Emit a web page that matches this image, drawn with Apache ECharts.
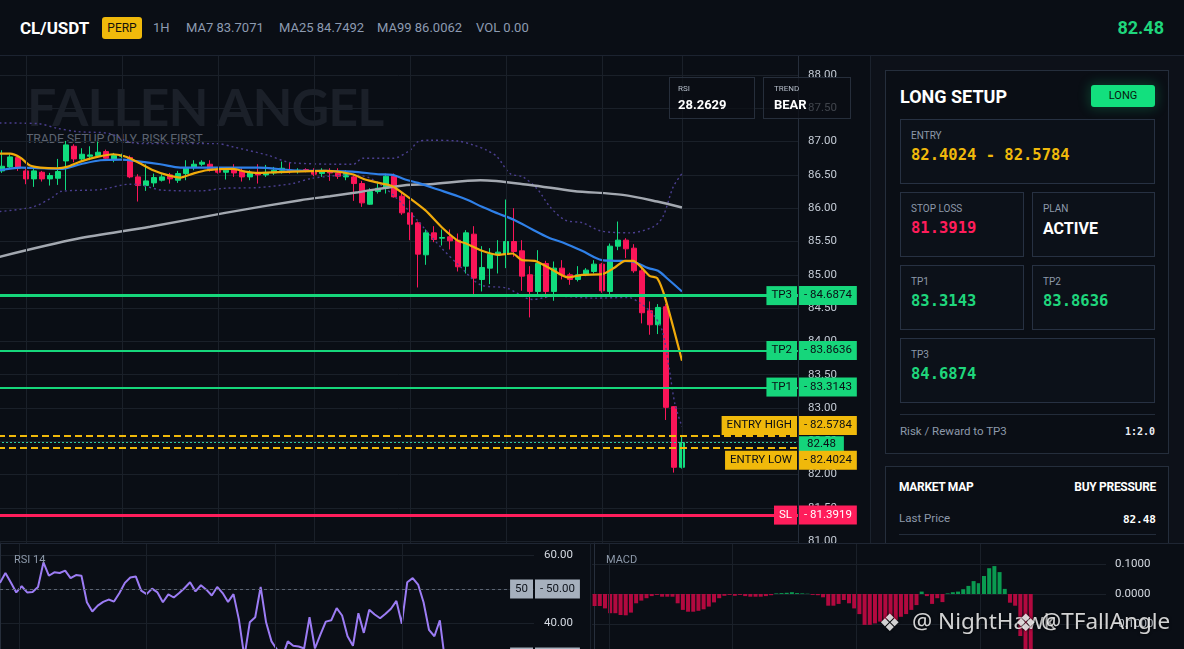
<!DOCTYPE html>
<html><head><meta charset="utf-8">
<script src="https://cdn.jsdelivr.net/npm/echarts/dist/echarts.min.js"></script>
<style>
*{box-sizing:border-box}
html,body{margin:0;padding:0}
body{background:#0a0e15;width:1184px;height:649px;overflow:hidden;position:relative;font-family:Roboto,'Noto Sans',sans-serif}
.t{position:absolute;white-space:nowrap;line-height:1}
.box{position:absolute;border:1px solid #273142;background:#0c1119}
.lbl{position:absolute;white-space:nowrap;line-height:1;font-size:10px;color:#8d99aa;font-family:Roboto}
.val{position:absolute;white-space:nowrap;line-height:1;font-family:'DejaVu Sans Mono',monospace;font-weight:700;font-size:15.5px}
#chart{position:absolute;left:0;top:0;width:1184px;height:649px;z-index:1}
.ov{z-index:2}
.wm{z-index:3;color:rgba(255,255,255,0.82);text-shadow:0 0 3px rgba(0,0,0,0.85);font-family:'Noto Sans';font-size:22.5px}
</style></head><body>
<div class="t" style="left:27px;top:75px;font:700 52px Lato;letter-spacing:-1px;color:#1b2029;z-index:0">FALLEN ANGEL</div>
<div class="t" style="left:26px;top:131px;font:12.5px Roboto;letter-spacing:-0.15px;color:#5c6370;z-index:0">TRADE SETUP ONLY. RISK FIRST.</div>
<div id="chart"></div>

<div class="ov" style="position:absolute;left:0;top:0;width:1184px;height:56px;background:#0a0e15;border-bottom:1px solid #1c2330"></div>
<div class="t ov" style="left:20px;top:19.5px;font-size:17px;font-weight:700;color:#fff">CL/USDT</div>
<div class="ov" style="position:absolute;left:102px;top:17px;width:40px;height:22px;background:#f0b90b;border-radius:3px;text-align:center;line-height:22px;font-size:12px;color:#16120a">PERP</div>
<div class="t ov" style="left:153px;top:21px;font-size:13px;color:#8d9bb1">1H</div>
<div class="t ov" style="left:186px;top:21px;font-size:13px;color:#8d9bb1">MA7 83.7071</div>
<div class="t ov" style="left:279px;top:21px;font-size:13px;color:#8d9bb1">MA25 84.7492</div>
<div class="t ov" style="left:377px;top:21px;font-size:13px;color:#8d9bb1">MA99 86.0062</div>
<div class="t ov" style="left:476px;top:21px;font-size:13px;color:#8d9bb1">VOL 0.00</div>
<div class="t ov" style="right:20px;top:19.3px;font-size:18px;font-weight:700;color:#1fd67c">82.48</div>

<div class="ov" style="position:absolute;left:669px;top:77px;width:86px;height:42px;border:1px solid #262e3b;background:rgba(11,14,21,0.72)"></div>
<div class="t ov" style="left:678px;top:84.6px;font-size:8px;color:#b5bdc9">RSI</div>
<div class="t ov" style="left:678px;top:97.7px;font-size:13px;font-weight:700;color:#fff">28.2629</div>
<div class="ov" style="position:absolute;left:763px;top:77px;width:88px;height:42px;border:1px solid #262e3b;background:rgba(11,14,21,0.72)"></div>
<div class="t ov" style="left:774px;top:84.6px;font-size:8px;color:#b5bdc9">TREND</div>
<div class="t ov" style="left:774px;top:97.7px;font-size:13px;font-weight:700;color:#fff">BEAR</div>

<div class="ov" style="position:absolute;left:870px;top:56px;width:314px;height:487px;background:#0d1119;border-left:1px solid #1b222d"></div>
<div class="ov" style="position:absolute;left:885px;top:70px;width:284px;height:384px;border:1px solid #252e3c;background:#0a0e15"></div>
<div class="t ov" style="left:900px;top:88px;font-size:18px;font-weight:700;color:#fff">LONG SETUP</div>
<div class="ov" style="position:absolute;left:1091px;top:85px;width:64px;height:22px;background:#12e07e;border-radius:3px;text-align:center;line-height:22px;font-size:11px;color:#07170e;box-shadow:0 0 12px 2px rgba(18,224,126,0.22)">LONG</div>

<div class="box ov" style="left:900px;top:119px;width:255px;height:65px"></div>
<div class="lbl ov" style="left:911px;top:130.6px">ENTRY</div>
<div class="val ov" style="left:911px;top:147.6px;color:#f0b90b">82.4024 - 82.5784</div>

<div class="box ov" style="left:900px;top:192px;width:124px;height:65px"></div>
<div class="lbl ov" style="left:911px;top:204.1px">STOP LOSS</div>
<div class="val ov" style="left:911px;top:221.1px;color:#ff1d5b">81.3919</div>
<div class="box ov" style="left:1032px;top:192px;width:123px;height:65px"></div>
<div class="lbl ov" style="left:1043px;top:204.1px">PLAN</div>
<div class="t ov" style="left:1043px;top:220.7px;font-size:16px;font-weight:700;color:#fff">ACTIVE</div>

<div class="box ov" style="left:900px;top:265px;width:124px;height:65px"></div>
<div class="lbl ov" style="left:911px;top:277.4px">TP1</div>
<div class="val ov" style="left:911px;top:294.1px;color:#1fd67c">83.3143</div>
<div class="box ov" style="left:1032px;top:265px;width:123px;height:65px"></div>
<div class="lbl ov" style="left:1043px;top:277.4px">TP2</div>
<div class="val ov" style="left:1043px;top:294.1px;color:#1fd67c">83.8636</div>

<div class="box ov" style="left:900px;top:338px;width:255px;height:65px"></div>
<div class="lbl ov" style="left:911px;top:350.1px">TP3</div>
<div class="val ov" style="left:911px;top:366.6px;color:#1fd67c">84.6874</div>

<div class="ov" style="position:absolute;left:900px;top:414px;width:255px;height:1px;background:#232c3a"></div>
<div class="t ov" style="left:900px;top:426.1px;font-size:11.5px;color:#8d99aa">Risk / Reward to TP3</div>
<div class="val ov" style="right:29px;top:427.2px;font-size:10px;color:#e9edf2">1:2.0</div>

<div class="ov" style="position:absolute;left:885px;top:466px;width:284px;height:77px;border:1px solid #252e3c;border-bottom:none;background:#0a0e15"></div>
<div class="t ov" style="left:899px;top:480.9px;font-size:12px;font-weight:700;letter-spacing:-0.3px;color:#fff">MARKET MAP</div>
<div class="t ov" style="right:28px;top:480.9px;font-size:12px;font-weight:700;letter-spacing:-0.3px;color:#fff">BUY PRESSURE</div>
<div class="t ov" style="left:899px;top:513.4px;font-size:11.5px;color:#8d99aa">Last Price</div>
<div class="val ov" style="right:28px;top:513.7px;font-size:11px;color:#fff">82.48</div>
<div class="ov" style="position:absolute;left:899px;top:534px;width:257px;height:1px;background:#232c3a"></div>

<div class="ov" style="position:absolute;left:0;top:543px;width:1184px;height:1px;background:#1f2633"></div>
<div class="ov" style="position:absolute;left:590px;top:543px;width:1px;height:106px;background:#1a212c"></div>
<div class="t ov" style="left:14px;top:553.7px;font-size:11px;color:#8d99aa">RSI 14</div>
<div class="t ov" style="left:606px;top:554px;font-size:11px;color:#8d99aa">MACD</div>

<div class="t wm" style="left:879px;top:611px;font-family:'DejaVu Sans';font-size:24px">❖</div>
<div class="t wm" style="left:912px;top:610px">@ NightHawk</div>
<div class="t wm" style="left:1015px;top:611px;font-family:'DejaVu Sans';font-size:24px">❖</div>
<div class="t wm" style="left:1041px;top:610px">@TFallAngle</div>

<script>
// ---------- data ----------
const categories = Array.from({length: 100}, (_, i) => String(i));
const opens  = [86.56,86.62,86.76,86.56,86.44,86.54,86.44,86.45,86.71,86.93,86.74,86.78,86.79,86.85,86.74,86.78,86.76,86.47,86.34,86.38,86.42,86.50,86.42,86.52,86.61,86.66,86.66,86.57,86.54,86.58,86.56,86.47,86.53,86.50,86.53,86.57,86.57,86.55,86.58,86.56,86.52,86.56,86.53,86.47,86.47,86.37,86.06,86.25,86.30,86.48,86.18,85.93,85.78,85.30,85.63,85.55,85.57,85.52,85.13,85.61,84.93,85.10,85.30,85.31,85.50,85.36,85.00,84.75,85.17,84.75,85.10,85.00,84.93,85.00,85.05,85.16,84.75,85.43,85.52,85.40,85.06,84.46,84.25,84.52,83.02,82.11];
const closes = [86.63,86.77,86.60,86.44,86.56,86.44,86.49,86.55,86.95,86.74,86.81,86.80,86.84,86.75,86.79,86.79,86.47,86.34,86.41,86.46,86.47,86.44,86.52,86.61,86.66,86.69,86.57,86.54,86.57,86.53,86.47,86.53,86.50,86.53,86.57,86.60,86.55,86.57,86.56,86.51,86.55,86.53,86.48,86.53,86.37,86.08,86.25,86.30,86.48,86.17,85.93,85.76,85.31,85.63,85.53,85.56,85.51,85.12,85.63,84.95,85.11,85.31,85.34,85.50,85.35,84.98,84.75,85.17,84.75,85.10,85.00,84.93,85.00,85.07,85.16,84.76,85.43,85.52,85.39,85.06,84.43,84.25,84.51,83.01,82.11,82.48];
const lows   = [86.53,86.60,86.56,86.36,86.32,86.40,86.34,86.35,86.27,86.69,86.70,86.72,86.77,86.72,86.69,86.75,86.45,86.10,86.26,86.32,86.40,86.37,86.38,86.42,86.57,86.63,86.55,86.52,86.43,86.47,86.40,86.42,86.37,86.47,86.50,86.52,86.52,86.52,86.54,86.48,86.47,86.41,86.44,86.42,86.11,86.02,86.05,86.22,86.22,86.16,85.90,85.52,84.81,85.15,85.49,85.44,85.38,85.05,85.02,84.68,84.75,84.86,85.02,85.10,85.27,84.76,84.36,84.70,84.65,84.61,84.93,84.85,84.90,84.98,85.02,84.73,84.70,85.37,85.25,85.03,84.27,84.10,84.11,82.82,82.03,82.09];
const highs  = [86.87,86.81,86.79,86.60,86.60,86.56,86.53,86.74,87.01,86.96,86.90,86.93,87.00,86.88,86.83,86.82,86.79,86.51,86.66,86.52,86.51,86.53,86.56,86.72,86.72,86.72,86.72,86.60,86.60,86.66,86.60,86.57,86.66,86.65,86.62,86.70,86.69,86.60,86.60,86.60,86.60,86.60,86.60,86.57,86.51,86.41,86.30,86.40,86.52,86.52,86.25,86.12,85.80,85.68,85.73,85.68,85.68,85.62,85.67,85.73,85.43,85.40,85.52,86.13,86.00,85.52,85.13,85.37,85.21,85.20,85.22,85.03,85.13,85.10,85.22,85.18,85.47,85.80,85.55,85.46,85.12,84.60,84.56,84.56,83.03,82.58];

// moving averages & bands: [candle index, price]
const ma7 = [[-0.3,86.82],[1,86.82],[2.3,86.76],[3.5,86.64],[4.8,86.61],[6.9,86.60],[8.1,86.62],[9.8,86.70],[11.9,86.77],[13.9,86.81],[15.6,86.77],[17.3,86.67],[18.9,86.57],[20.6,86.50],[22.3,86.46],[23.9,86.52],[25.6,86.57],[28.9,86.59],[30.4,86.55],[32,86.53],[36.3,86.55],[40.4,86.56],[43.8,86.51],[45.4,86.43],[47.5,86.37],[48.8,86.33],[50.4,86.20],[52.9,85.97],[55,85.71],[57,85.51],[58,85.47],[60,85.36],[62,85.30],[63.8,85.32],[65,85.22],[66.6,85.21],[68.3,85.11],[70.8,84.96],[72.5,85.00],[75,85.01],[76.6,85.11],[77.9,85.21],[78.9,85.21],[80,85.10],[81,84.98],[81.9,84.95],[82.9,84.65],[85,83.71]];
const ma25 = [[-0.3,86.57],[2.3,86.61],[4.8,86.60],[7.3,86.59],[9.8,86.66],[12.3,86.72],[14.8,86.73],[17.3,86.70],[19.8,86.66],[22.3,86.61],[24.8,86.61],[28.9,86.61],[32,86.61],[36.3,86.57],[40.4,86.56],[43.8,86.55],[47,86.51],[48.8,86.50],[50.4,86.43],[52,86.38],[54.5,86.28],[57,86.18],[58.3,86.12],[60,86.02],[62,85.92],[64.1,85.82],[66.3,85.68],[68.3,85.56],[70.4,85.47],[72.5,85.36],[75,85.22],[76.6,85.21],[78.8,85.20],[80.8,85.10],[82,85.06],[83.3,84.93],[85,84.75]];
const ma99 = [[-0.3,85.27],[9.4,85.54],[18.5,85.72],[27.9,85.93],[37.3,86.12],[41,86.18],[44.5,86.24],[50.6,86.35],[53.5,86.36],[59.8,86.42],[66,86.35],[71.4,86.26],[77.6,86.20],[81.9,86.10],[85,86.01]];
const bollUpper = [[-0.3,87.28],[4.5,87.27],[6.9,87.20],[9.4,87.15],[13.5,87.12],[15.5,87.01],[17.3,86.97],[26.9,86.97],[28.9,86.92],[33.1,86.80],[36.3,86.68],[43.9,86.66],[45.1,86.75],[48.9,86.75],[51,86.87],[52,87.00],[53.5,87.02],[56.9,87.01],[58.9,86.95],[60.6,86.87],[61.9,86.77],[63.5,86.52],[65.1,86.47],[66.9,86.29],[68.5,86.02],[70.4,85.82],[72.6,85.78],[74.8,85.66],[78.5,85.63],[81.4,85.72],[82.6,85.87],[83.9,86.32],[85,86.52]];
const bollLower = [[-0.3,85.95],[3.9,86.02],[6.4,86.17],[7.3,86.25],[12.3,86.28],[16,86.36],[17.3,86.35],[20.1,86.27],[24.8,86.26],[27.9,86.30],[32,86.31],[36.3,86.37],[38.8,86.45],[43.8,86.50],[46,86.45],[48.9,86.20],[51.9,85.82],[54.8,85.42],[57.3,85.12],[59.8,84.85],[63.1,84.80],[66.3,84.63],[69.1,84.68],[74.1,84.65],[78.3,84.66],[79.8,84.57],[81.3,84.42],[82.5,84.17],[83.3,83.67],[84.1,83.07],[85,82.72]];

const rsi14 = [51.8,54.7,51.9,49.0,50.8,49.0,49.1,50.6,57.8,53.9,54.9,54.7,55.4,53.2,54.1,53.9,46.1,43.4,45.1,46.2,46.9,46.3,48.8,51.8,53.4,53.7,49.5,48.5,50.1,49.0,46.1,48.4,47.5,48.8,50.3,52.0,49.3,51.1,49.8,48.1,50.6,48.8,46.2,48.5,41.0,30.0,40.2,41.7,50.6,40.2,34.6,32.2,30.0,34.6,33.3,33.1,32.5,41.7,32.5,36.6,40.4,40.8,44.4,42.2,36.1,33.3,42.9,37.1,43.9,42.5,41.4,42.7,44.2,46.5,39.8,52.0,53.2,51.3,46.1,38.0,36.1,40.8,28.26];
const macdHist = [-0.040,-0.040,-0.048,-0.064,-0.064,-0.070,-0.071,-0.062,-0.031,-0.022,-0.014,-0.007,-0.003,-0.009,-0.009,-0.009,-0.031,-0.053,-0.059,-0.059,-0.056,-0.051,-0.042,-0.028,-0.014,-0.006,-0.003,-0.006,-0.003,-0.007,-0.009,-0.009,-0.009,-0.007,-0.004,0.002,0.003,0.004,0.006,0.003,0.002,0.001,-0.003,-0.004,-0.011,-0.039,-0.039,-0.033,-0.020,-0.031,-0.048,-0.067,-0.103,-0.103,-0.098,-0.092,-0.087,-0.076,-0.087,-0.076,-0.067,-0.053,-0.037,0.008,-0.007,-0.033,-0.014,-0.027,0.002,0.006,0.008,0.016,0.027,0.043,0.036,0.060,0.086,0.093,0.073,0.017,-0.029,-0.039,-0.140,-0.200,-0.220];

const levelNames  = ['TP3','TP2','TP1','ENTRY HIGH','','ENTRY LOW','SL'];
const levelValues = [84.6874,83.8636,83.3143,82.5784,82.48,82.4024,81.3919];
const rsiLevels = [50, 30];

const priceRange = [81, 88], priceStep = 0.5;
const rsiRange = [30, 63.53], rsiStep = 10;
const macdRange = [-0.2, 0.17], macdStep = 0.1;
const gridCols = [3,15,27,39,51,63,75,85];   // candle indices of vertical grid lines
const rsiCols = [3.46,27.0,50.6,74.1];
const macdCols = [2.8,26.5,50.4,74.3];

// ---------- styles ----------
const upColor = '#10dc7e', downColor = '#fa1558';
const gridLine = '#1a2029', axisLineC = '#262e3b', labelColor = '#c4cbd5';
const green = '#16d67b', yellow = '#f0b90b', red = '#ff1d5b';
const levelStyles = [
  {line:{color:green,width:3,type:'solid'}, bg:green, fg:'#0a0e15', va:'middle', dy:0, pad:[3,5,3,5]},
  {line:{color:green,width:2,type:'solid'}, bg:green, fg:'#0a0e15', va:'middle', dy:0, pad:[3,5,3,5]},
  {line:{color:green,width:2,type:'solid'}, bg:green, fg:'#0a0e15', va:'middle', dy:0, pad:[3,5,3,5]},
  {line:{color:yellow,width:2,type:[7,4]}, bg:yellow, fg:'#0a0e15', va:'bottom', dy:-1, pad:[3,5,3,5]},
  {line:{color:'#2ec7a0',width:1,type:[2,2]}, bg:'#14d47b', fg:'#0a0e15', va:'middle', dy:1, pad:[1,8,1,8]},
  {line:{color:yellow,width:2,type:[7,4]}, bg:yellow, fg:'#0a0e15', va:'top', dy:3, pad:[3,5,3,5]},
  {line:{color:red,width:3,type:'solid'}, bg:red, fg:'#ffffff', va:'middle', dy:0, pad:[3,5,3,5]}
];

function tagRenderer(names, values, styleOf, fmt) {
  return function (params, api) {
    const i = params.dataIndex;
    const st = styleOf(i);
    const y = api.coord([0, values[i]])[1] + st.dy;
    const right = params.coordSys.x + params.coordSys.width;
    const base = {fontSize: 11.5, fontFamily: 'Roboto', lineHeight: 13, verticalAlign: st.va,
                  fill: st.fg, backgroundColor: st.bg, padding: st.pad};
    const kids = [];
    if (names[i]) kids.push({type: 'text', x: right - 1, y: y,
      style: Object.assign({}, base, {text: names[i], align: 'right'})});
    kids.push({type: 'text', x: right + 1, y: y,
      style: Object.assign({}, base, {text: (names[i] ? '- ' : '') + fmt(values[i]), align: 'left'})});
    return {type: 'group', children: kids};
  };
}

function tickFmt(step, digits) {
  return function (v) {
    const r = v / step;
    if (Math.abs(r - Math.round(r)) > 1e-6) return '';
    const x = Math.round(r) * step;
    return (Math.abs(x) < 1e-9 ? 0 : x).toFixed(digits);
  };
}

const line = (data, color, width, type, smooth, z) => ({
  type: 'line', xAxisIndex: 2, yAxisIndex: 2, data: data, symbol: 'none', showSymbol: false,
  smooth: smooth, silent: true, z: z, lineStyle: {color: color, width: width, type: type}
});

const vLines = (cols) => ({silent: true, symbol: ['none','none'], label: {show: false},
  lineStyle: {color: gridLine, width: 1, type: 'solid'}, emphasis: {disabled: true},
  data: cols.map(c => ({xAxis: c}))});

const rsiStyle = () => ({bg: '#a6b0bd', fg: '#0d121a', va: 'middle', dy: 0, pad: [3,5,3,5]});

const option = {
  animation: false,
  backgroundColor: 'transparent',
  grid: [
    {left: -2, top: 55, width: 800, height: 488, outerBoundsMode: 'none'},
    {left: -2, top: 75, width: 800, height: 466.2, outerBoundsMode: 'none'},
    {left: -2, top: 75, width: 800, height: 466.2, outerBoundsMode: 'none'},
    {left: 0, top: 543, width: 534, height: 114, outerBoundsMode: 'none'},
    {left: 592, top: 543, width: 514, height: 111, outerBoundsMode: 'none'}
  ],
  xAxis: [
    {gridIndex: 0, type: 'category', data: categories, boundaryGap: true,
     axisLine: {show: true, lineStyle: {color: axisLineC}}, axisTick: {show: false},
     axisLabel: {show: false}, splitLine: {show: false}},
    {gridIndex: 1, type: 'category', data: categories, boundaryGap: true, show: false},
    {gridIndex: 2, type: 'value', min: -0.5, max: 99.5, show: false, splitLine: {show: false}},
    {gridIndex: 3, type: 'value', min: 0, max: 98.34, show: false, splitLine: {show: false}},
    {gridIndex: 4, type: 'value', min: -0.5, max: 98.5, show: false, splitLine: {show: false}}
  ],
  yAxis: [
    {gridIndex: 0, type: 'value', position: 'right', min: 0, max: 1,
     axisLine: {show: true, lineStyle: {color: axisLineC}}, axisTick: {show: false},
     axisLabel: {show: false}, splitLine: {show: false}},
    {gridIndex: 1, type: 'value', position: 'right', min: priceRange[0], max: priceRange[1], interval: priceStep,
     axisLine: {show: false}, axisTick: {show: false},
     axisLabel: {color: labelColor, fontSize: 11.5, fontFamily: 'Roboto', margin: 10, formatter: v => v.toFixed(2)},
     splitLine: {show: true, lineStyle: {color: gridLine, width: 1}}},
    {gridIndex: 2, type: 'value', min: priceRange[0], max: priceRange[1], show: false, splitLine: {show: false}},
    {gridIndex: 3, type: 'value', position: 'right', min: rsiRange[0], max: rsiRange[1], interval: rsiStep,
     axisLine: {show: true, lineStyle: {color: axisLineC}}, axisTick: {show: false},
     axisLabel: {color: '#d5dae2', fontSize: 11.5, fontFamily: 'Roboto', margin: 10, formatter: tickFmt(rsiStep, 2)},
     splitLine: {show: true, lineStyle: {color: gridLine}}},
    {gridIndex: 4, type: 'value', position: 'right', min: macdRange[0], max: macdRange[1], interval: macdStep,
     axisLine: {show: true, lineStyle: {color: axisLineC}}, axisTick: {show: false},
     axisLabel: {color: '#d5dae2', fontSize: 11.5, fontFamily: 'Roboto', margin: 9, formatter: tickFmt(macdStep, 4)},
     splitLine: {show: true, lineStyle: {color: gridLine}}}
  ],
  series: [
    // vertical grid lines of the price pane
    {type: 'line', xAxisIndex: 0, yAxisIndex: 0, data: [], z: 0, silent: true, markLine: vLines(gridCols)},
    // candles
    {type: 'candlestick', xAxisIndex: 1, yAxisIndex: 1, z: 2, barWidth: 5, silent: true,
     data: opens.map((o, i) => [o, closes[i], lows[i], highs[i]]),
     itemStyle: {color: upColor, color0: downColor, borderColor: upColor, borderColor0: downColor, borderWidth: 1}},
    // bands and moving averages
    line(bollUpper, '#4b3f90', 1.4, [2,3], 0.3, 3),
    line(bollLower, '#4b3f90', 1.4, [2,3], 0.3, 3),
    line(ma99, '#a3a8b0', 2.5, 'solid', 0.3, 3),
    line(ma25, '#2f80e8', 2.2, 'solid', 0.3, 3),
    line(ma7, '#f0aa0b', 2.2, 'solid', 0.25, 3),
    // price levels
    {type: 'line', xAxisIndex: 1, yAxisIndex: 1, data: [], z: 4, silent: true,
     markLine: {silent: true, symbol: ['none','none'], label: {show: false}, emphasis: {disabled: true},
       data: levelValues.map((v, i) => ({yAxis: v, lineStyle: levelStyles[i].line}))}},
    {type: 'custom', xAxisIndex: 1, yAxisIndex: 1, z: 6, silent: true, clip: false,
     data: levelValues.map((v, i) => [0, v]),
     renderItem: tagRenderer(levelNames, levelValues, i => levelStyles[i], v => String(v))},
    // RSI pane
    {type: 'line', xAxisIndex: 3, yAxisIndex: 3, data: [], z: 0, silent: true, markLine: vLines(rsiCols)},
    {type: 'line', xAxisIndex: 3, yAxisIndex: 3, data: rsi14.map((v, i) => [i, v]), symbol: 'none',
     silent: true, z: 3, lineStyle: {color: '#9c7cf4', width: 2},
     markLine: {silent: true, symbol: ['none','none'], label: {show: false}, emphasis: {disabled: true},
       lineStyle: {color: '#5b6472', width: 1, type: [3,3]}, data: rsiLevels.map(v => ({yAxis: v}))}},
    {type: 'custom', xAxisIndex: 3, yAxisIndex: 3, z: 6, silent: true, clip: false,
     data: rsiLevels.map(v => [0, v]),
     renderItem: tagRenderer(rsiLevels.map(String), rsiLevels, rsiStyle, v => v.toFixed(2))},
    // MACD pane
    {type: 'line', xAxisIndex: 4, yAxisIndex: 4, data: [], z: 0, silent: true, markLine: vLines(macdCols)},
    {type: 'bar', xAxisIndex: 4, yAxisIndex: 4, barWidth: 4, silent: true, z: 2,
     data: macdHist.map((v, i) => ({value: [i, v], itemStyle: {color: v >= 0 ? '#0a9a50' : '#b2093f'}}))}
  ]
};

const chart = echarts.init(document.getElementById('chart'), null, {renderer: 'canvas'});
chart.setOption(option);
</script>
</body></html>
